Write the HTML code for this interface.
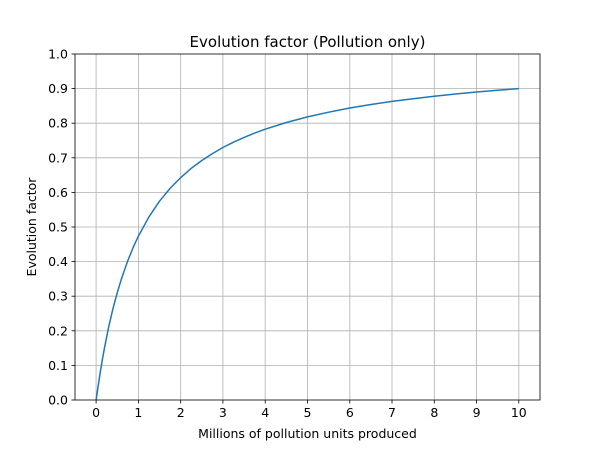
<!DOCTYPE html>
<html><head><style>body{margin:0;background:#fff}svg{display:block}</style></head>
<body>
<svg width="600" height="450" xmlns="http://www.w3.org/2000/svg" font-family="DejaVu Sans, Liberation Sans, sans-serif">
<rect width="600" height="450" fill="#fff"/>
<g stroke="#b0b0b0" stroke-width="0.8">
<line x1="96.1" y1="54" x2="96.1" y2="400"/><line x1="138.4" y1="54" x2="138.4" y2="400"/><line x1="180.7" y1="54" x2="180.7" y2="400"/><line x1="222.9" y1="54" x2="222.9" y2="400"/><line x1="265.2" y1="54" x2="265.2" y2="400"/><line x1="307.5" y1="54" x2="307.5" y2="400"/><line x1="349.8" y1="54" x2="349.8" y2="400"/><line x1="392.0" y1="54" x2="392.0" y2="400"/><line x1="434.3" y1="54" x2="434.3" y2="400"/><line x1="476.6" y1="54" x2="476.6" y2="400"/><line x1="518.8" y1="54" x2="518.8" y2="400"/>
<line x1="75" y1="365.4" x2="540" y2="365.4"/><line x1="75" y1="330.8" x2="540" y2="330.8"/><line x1="75" y1="296.2" x2="540" y2="296.2"/><line x1="75" y1="261.6" x2="540" y2="261.6"/><line x1="75" y1="227" x2="540" y2="227"/><line x1="75" y1="192.4" x2="540" y2="192.4"/><line x1="75" y1="157.8" x2="540" y2="157.8"/><line x1="75" y1="123.2" x2="540" y2="123.2"/><line x1="75" y1="88.6" x2="540" y2="88.6"/>
</g>
<polyline fill="none" stroke="#1f77b4" stroke-width="1.5" stroke-linejoin="round" points="96.1,400 97.2,392.4 98.3,385.1 100.4,371.4 102.5,358.8 104.6,347.2 108.8,326.4 113.0,308.4 117.3,292.6 121.5,278.7 127.8,260.6 133.1,247.6 138.4,236.1 149.0,216.8 159.5,201.2 170.1,188.4 180.7,177.6 191.2,168.4 201.8,160.5 212.4,153.6 222.9,147.5 233.5,142.2 244.1,137.4 254.6,133.1 265.2,129.2 286.4,122.5 307.5,116.9 328.7,112.2 349.8,108.0 371.0,104.5 392.0,101.4 413.2,98.7 434.3,96.2 455.5,94.0 476.6,92.0 497.7,90.2 518.8,88.6"/>
<rect x="75" y="54" width="465" height="346" fill="none" stroke="#000" stroke-width="0.8"/>
<g stroke="#000" stroke-width="0.8">
<line x1="96.1" y1="400" x2="96.1" y2="403.5"/><line x1="138.4" y1="400" x2="138.4" y2="403.5"/><line x1="180.7" y1="400" x2="180.7" y2="403.5"/><line x1="222.9" y1="400" x2="222.9" y2="403.5"/><line x1="265.2" y1="400" x2="265.2" y2="403.5"/><line x1="307.5" y1="400" x2="307.5" y2="403.5"/><line x1="349.8" y1="400" x2="349.8" y2="403.5"/><line x1="392.0" y1="400" x2="392.0" y2="403.5"/><line x1="434.3" y1="400" x2="434.3" y2="403.5"/><line x1="476.6" y1="400" x2="476.6" y2="403.5"/><line x1="518.8" y1="400" x2="518.8" y2="403.5"/>
<line x1="71.5" y1="400" x2="75" y2="400"/><line x1="71.5" y1="365.4" x2="75" y2="365.4"/><line x1="71.5" y1="330.8" x2="75" y2="330.8"/><line x1="71.5" y1="296.2" x2="75" y2="296.2"/><line x1="71.5" y1="261.6" x2="75" y2="261.6"/><line x1="71.5" y1="227" x2="75" y2="227"/><line x1="71.5" y1="192.4" x2="75" y2="192.4"/><line x1="71.5" y1="157.8" x2="75" y2="157.8"/><line x1="71.5" y1="123.2" x2="75" y2="123.2"/><line x1="71.5" y1="88.6" x2="75" y2="88.6"/><line x1="71.5" y1="54" x2="75" y2="54"/>
</g>
<g font-size="12.5" text-anchor="middle" fill="#000">
<text x="96.1" y="417">0</text><text x="138.4" y="417">1</text><text x="180.7" y="417">2</text><text x="222.9" y="417">3</text><text x="265.2" y="417">4</text><text x="307.5" y="417">5</text><text x="349.8" y="417">6</text><text x="392.0" y="417">7</text><text x="434.3" y="417">8</text><text x="476.6" y="417">9</text><text x="518.8" y="417">10</text>
</g>
<g font-size="12.5" text-anchor="end" fill="#000">
<text x="68" y="404.5">0.0</text><text x="68" y="369.9">0.1</text><text x="68" y="335.3">0.2</text><text x="68" y="300.7">0.3</text><text x="68" y="266.1">0.4</text><text x="68" y="231.5">0.5</text><text x="68" y="196.9">0.6</text><text x="68" y="162.3">0.7</text><text x="68" y="127.7">0.8</text><text x="68" y="93.1">0.9</text><text x="68" y="58.5">1.0</text>
</g>
<text x="307.5" y="438" font-size="12.5" text-anchor="middle">Millions of pollution units produced</text>
<text transform="translate(36,227) rotate(-90)" font-size="12.5" text-anchor="middle">Evolution factor</text>
<text x="307.5" y="47" font-size="15" text-anchor="middle">Evolution factor (Pollution only)</text>
</svg>
</body></html>
